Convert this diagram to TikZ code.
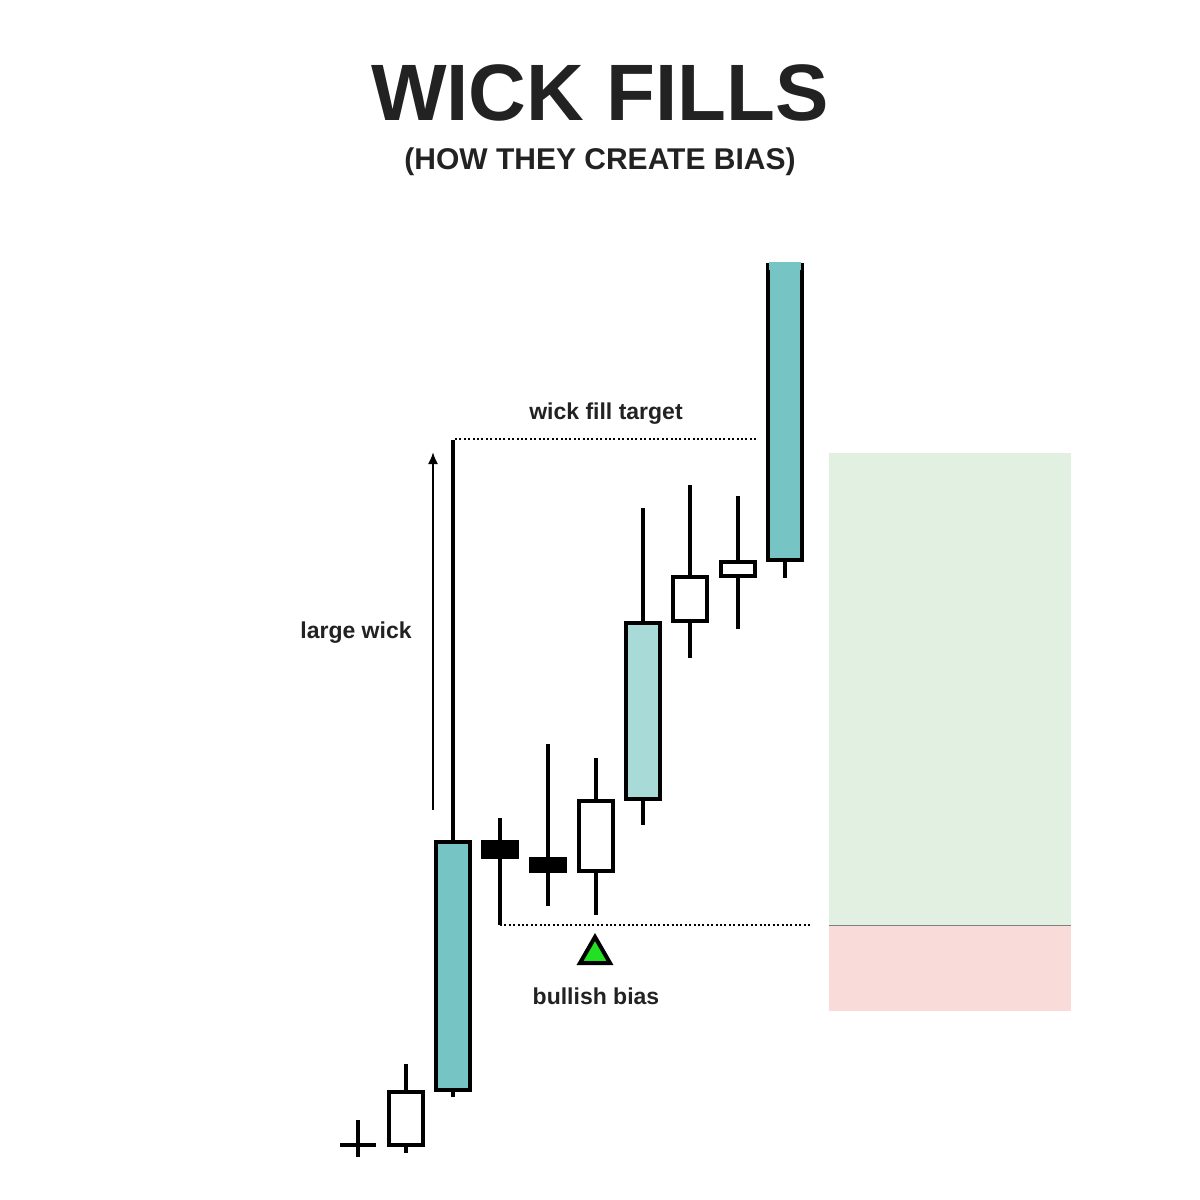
\documentclass[tikz,border=0pt]{standalone}
\usepackage{fontspec}
\setmainfont{Liberation Sans}
\usetikzlibrary{arrows.meta}
\definecolor{teal1}{HTML}{76C5C4}
\definecolor{teal2}{HTML}{A8DAD8}
\definecolor{gbg}{HTML}{E1F0E0}
\definecolor{rbg}{HTML}{F9DCD9}
\definecolor{tri}{HTML}{22E022}
\definecolor{txt}{HTML}{222222}
\tikzset{
  wick/.style={line width=1.8pt},
  body/.style={draw=black,line width=1.8pt},
  lbl/.style={font=\bfseries\fontsize{11.5}{13}\selectfont,text=txt},
  dots/.style={line width=0.9pt,dash pattern=on 1pt off 1.2pt},
}
\begin{document}
\begin{tikzpicture}[x=0.5pt,y=-0.5pt]
\useasboundingbox[fill=white] (0,0) rectangle (1200,1200);
\node[font=\bfseries\fontsize{40}{44}\selectfont,text=txt] (title) at (600,93) {WICK FILLS};
\node[font=\bfseries\fontsize{15}{18}\selectfont,text=txt] (sub) at (600,162) {(HOW THEY CREATE BIAS)};
% zones
\fill[gbg] (829,453) rectangle (1071,925);
\fill[rbg] (829,926) rectangle (1071,1011);
\draw[gray,line width=0.8pt] (829,925.5) -- (1071,925.5);
% dotted lines
\coordinate (t1) at (455,439); \coordinate (t2) at (757,439);
\draw[dots] (t1) -- (t2);
\coordinate (b1) at (500,925); \coordinate (b2) at (812,925);
\draw[dots] (b1) -- (b2);
\newcommand\cndl[6]{%
  \draw[wick] (#1,#4) -- (#1,#5);
  \filldraw[body,fill=#6] (#1-17,#2) rectangle (#1+17,#3);}
\draw[wick] (340,1145) -- (376,1145);
\draw[wick] (358,1120) -- (358,1157);
\cndl{406}{1092}{1145}{1064}{1153}{white}
\cndl{453}{842}{1090}{440}{1097}{teal1}
\cndl{500}{842}{857}{818}{925}{black}
\cndl{548}{859}{871}{744}{906}{black}
\cndl{596}{801}{871}{758}{915}{white}
\cndl{643}{623}{799}{508}{825}{teal2}
\cndl{690}{577}{621}{485}{658}{white}
\cndl{738}{562}{576}{496}{629}{white}
\draw[wick] (785,540) -- (785,578);
\filldraw[body,fill=teal1] (768,263) -- (768,560) -- (802,560) -- (802,263);
\fill[teal1] (769,262) rectangle (801,270);
\coordinate (a1) at (433,810); \coordinate (a2) at (433,452);
\draw[line width=1pt,-{Latex[length=6pt,width=5pt]}] (a1) -- (a2);
\filldraw[fill=tri,draw=black,line width=2pt] (580,963) -- (610,963) -- (595,937) -- cycle;
\node[lbl] (l1) at (606,414) {wick fill target};
\node[lbl] (l2) at (356,633) {large wick};
\node[lbl] (l3) at (596,996) {bullish bias};
\end{tikzpicture}
\end{document}
